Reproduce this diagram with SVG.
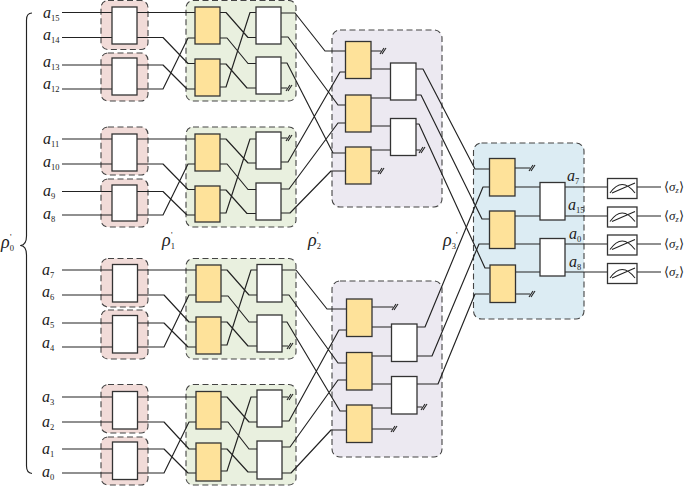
<svg xmlns="http://www.w3.org/2000/svg" width="685" height="486" viewBox="0 0 685 486" font-family="'Liberation Serif','Times New Roman',serif">
<style>
.r{fill:#f1dbd8;stroke:#444;stroke-width:1.1;stroke-dasharray:6 3.5}
.g{fill:#e9f0df;stroke:#444;stroke-width:1.1;stroke-dasharray:6 3.5}
.p{fill:#ece9f1;stroke:#444;stroke-width:1.1;stroke-dasharray:6 3.5}
.b{fill:#dcecf3;stroke:#444;stroke-width:1.1;stroke-dasharray:6 3.5}
.y{fill:#fee29a;stroke:#333;stroke-width:1.3}
.w{fill:#fff;stroke:#333;stroke-width:1.3}
.c{fill:none;stroke:#222;stroke-width:1.15;stroke-linejoin:round}
.h{fill:none;stroke:#222;stroke-width:1.1}
.m{fill:#fff;stroke:#333;stroke-width:1.3}
text{font-family:'Liberation Serif','Times New Roman',serif;font-size:16px;fill:#222}
.i{font-style:italic}
.s{font-size:8.5px;font-style:normal}
.q{font-size:13px}
.z{font-size:8px;font-style:italic}
.rho{font-size:18px;font-style:italic}
</style>
<g id="backgrounds">
<rect class="r" x="101" y="0.5" width="47" height="49" rx="7"/><rect class="r" x="101" y="53" width="47" height="48" rx="7"/>
<rect class="r" x="101" y="127" width="47" height="48" rx="7"/><rect class="r" x="101" y="179" width="47" height="48" rx="7"/>
<rect class="r" x="101" y="258.500" width="47" height="48.500" rx="7"/><rect class="r" x="101" y="310" width="47" height="49" rx="7"/>
<rect class="r" x="101" y="384.500" width="47" height="48.500" rx="7"/><rect class="r" x="101" y="437" width="47" height="48" rx="7"/>
<rect class="g" x="186" y="0.500" width="110" height="100.500" rx="7"/><rect class="g" x="186" y="127" width="110" height="100" rx="7"/>
<rect class="g" x="186" y="258.500" width="110" height="100.500" rx="7"/><rect class="g" x="186" y="384.500" width="110" height="100.500" rx="7"/>
<rect class="p" x="332" y="30" width="110" height="177" rx="8"/><rect class="p" x="332" y="281" width="110" height="176" rx="8"/>
<rect class="b" x="473.500" y="143" width="110.500" height="176" rx="8"/>
</g>
<g id="connectors">
<path class="c" d="M62 12.500H195M62 37.500H163L188 63.500H195M62 65H163L187 89H195M62 89H163L188 38H195M220 12.500H226L248 37.500H256M220 38H227L248 63.500H256M220 64H226L247 88H256M220 87H226L250 12.500H256"/>
<path class="c" d="M62 139H195M62 164H163L188 189.500H195M62 191.500H163L187 215H195M62 215H163L188 164H195M220 139H226L248 163H256M220 164H227L248 189.500H256M220 190H226L247 213.500H256M220 213H226L250 139H256"/>
<path class="c" d="M62 270H196M62 295H164L189 322H196M62 323H164L188 347H196M62 347H164L189 295H196M221 270H227L249 295H257M221 296H228L249 322H257M221 322H227L248 346H257M221 345H227L251 270H257"/>
<path class="c" d="M62 397H196M62 422H164L189 449H196M62 449H164L188 473H196M62 473H164L189 422H196M221 397H227L249 422H257M221 422H228L249 449H257M221 449H227L248 472H257M221 471H227L251 397H257"/>
<path class="c" d="M281 13H295L325 51H345M281 37H288L338 105H345M281 63H287L333 153H345M281 88H287M281 138H287M281 162H288L340 72H345M281 189H289L338 123H345M281 213H290L331 171H345"/>
<path class="c" d="M282 270H296L327 309H347M282 295H289L338 363H347M282 322H287L340 411H347M282 346H288M282 397H288M282 421H289L339 330H347M282 447H290L338 380H347M282 473H291L331 430H347"/>
<path class="c" d="M371 51H381M371 69H390M371 98H390M371 126H390M371 150H390M371 171H379M416 69H423L475 169H489M416 95H421L482 219H489M416 124H419L485 268H490M416 150H420"/>
<path class="c" d="M372 307H393M372 327H391M372 356H391M372 384H391M372 408H391M372 429H392M417 327H425L483 187H489M417 356H432L479 244H490M417 384H438L475 294H489M417 407H422"/>
<path class="c" d="M515 168H530M515 187H540M515 216H540M515 244H540M515 272H540M515 294H530M565 187H607M565 216H607M565 244H607M565 272H607M637 187H661M637 216H661M637 244H661M637 272H661"/>
<path class="c" d="M32 13Q26.500 13 26.500 20V236Q26.500 245 20.500 245.500Q26.500 246 26.500 255V466Q26.500 473 32 473.500"/>
<g class="h"><path d="M286 91L290 85M288 91L292 85M286 141L290 135M288 141L292 135"/>
<path d="M287 349L291 343M289 349L293 343M287 400L291 394M289 400L293 394"/>
<path d="M380 54L384 48M382 54L386 48M378 174L382 168M380 174L384 168M419 153L423 147M421 153L425 147"/>
<path d="M392 310L396 304M394 310L398 304M391 432L395 426M393 432L397 426M421 410L425 404M423 410L427 404"/>
<path d="M529 171L533 165M531 171L535 165M529 297L533 291M531 297L535 291"/></g>
</g>
<g id="n1"><rect class="w" x="112" y="7" width="25" height="37"/></g>
<g id="n2"><rect class="w" x="112" y="58" width="25" height="37"/></g>
<g id="n3"><rect class="w" x="112" y="134" width="25" height="37"/></g>
<g id="n4"><rect class="w" x="112" y="185" width="25" height="36"/></g>
<g id="n5"><rect class="w" x="112.500" y="264.500" width="25" height="37.500"/></g>
<g id="n6"><rect class="w" x="112.500" y="315.500" width="25" height="37.500"/></g>
<g id="n7"><rect class="w" x="112.500" y="391.500" width="25" height="37.500"/></g>
<g id="n8"><rect class="w" x="112.500" y="442" width="25" height="37.500"/></g>
<g id="n9"><rect class="y" x="195" y="7" width="25" height="37"/></g>
<g id="n10"><rect class="y" x="195" y="59" width="25" height="37"/></g>
<g id="n11"><rect class="y" x="195" y="134" width="25" height="37"/></g>
<g id="n12"><rect class="y" x="195" y="186" width="25" height="36"/></g>
<g id="n13"><rect class="y" x="196" y="265" width="25" height="37"/></g>
<g id="n14"><rect class="y" x="196" y="317" width="25" height="37"/></g>
<g id="n15"><rect class="y" x="196" y="391.500" width="25" height="37.500"/></g>
<g id="n16"><rect class="y" x="196" y="443" width="25" height="38"/></g>
<g id="n17"><rect class="w" x="256" y="7" width="25" height="37"/></g>
<g id="n18"><rect class="w" x="256" y="57" width="25" height="37"/></g>
<g id="n19"><rect class="w" x="256" y="132" width="25" height="37"/></g>
<g id="n20"><rect class="w" x="256" y="183" width="25" height="37"/></g>
<g id="n21"><rect class="w" x="257" y="264.500" width="25" height="37.500"/></g>
<g id="n22"><rect class="w" x="257" y="315" width="25" height="37"/></g>
<g id="n23"><rect class="w" x="257" y="390" width="25" height="37"/></g>
<g id="n24"><rect class="w" x="257" y="441" width="25" height="38"/></g>
<g id="n25"><rect class="y" x="345.500" y="41.500" width="25.500" height="37"/></g>
<g id="n26"><rect class="y" x="345.500" y="95" width="25.500" height="37"/></g>
<g id="n27"><rect class="y" x="345.500" y="147" width="25.500" height="37"/></g>
<g id="n28"><rect class="w" x="390.500" y="63" width="25.500" height="37"/></g>
<g id="n29"><rect class="w" x="390.500" y="118.500" width="25.500" height="37"/></g>
<g id="n30"><rect class="y" x="346.500" y="299" width="25.500" height="37.500"/></g>
<g id="n31"><rect class="y" x="346.500" y="352.500" width="25.500" height="37.500"/></g>
<g id="n32"><rect class="y" x="346.500" y="405" width="25.500" height="37.500"/></g>
<g id="n33"><rect class="w" x="391.500" y="324" width="25.500" height="37.500"/></g>
<g id="n34"><rect class="w" x="391.500" y="376.500" width="25.500" height="37.500"/></g>
<g id="n35"><rect class="y" x="489.500" y="158.500" width="25.500" height="37.500"/></g>
<g id="n36"><rect class="y" x="489.500" y="211" width="25.500" height="37.500"/></g>
<g id="n37"><rect class="y" x="490" y="265" width="25.500" height="37.500"/></g>
<g id="n38"><rect class="w" x="540" y="182.500" width="25" height="37.500"/></g>
<g id="n39"><rect class="w" x="540" y="238.500" width="25" height="37.500"/></g>
<g id="meter1"><rect class="m" x="607.500" y="178.500" width="29.500" height="20"/><path class="h" d="M610 193Q622 176 635 193M612 193L635 183"/></g>
<g id="meter2"><rect class="m" x="607.500" y="207" width="29.500" height="20"/><path class="h" d="M610 221.500Q622 204.500 635 221.500M612 221.500L635 211.500"/></g>
<g id="meter3"><rect class="m" x="607.500" y="235" width="29.500" height="20"/><path class="h" d="M610 249.500Q622 232.500 635 249.500M612 249.500L635 239.500"/></g>
<g id="meter4"><rect class="m" x="607.500" y="263.500" width="29.500" height="20"/><path class="h" d="M610 278Q622 261 635 278M612 278L635 268"/></g>
<g id="labels">
<text class="i" x="43" y="18">a<tspan class="s" dy="3">15</tspan></text>
<text class="i" x="43" y="40">a<tspan class="s" dy="3">14</tspan></text>
<text class="i" x="43" y="67">a<tspan class="s" dy="3">13</tspan></text>
<text class="i" x="43" y="89">a<tspan class="s" dy="3">12</tspan></text>
<text class="i" x="43" y="144">a<tspan class="s" dy="3">11</tspan></text>
<text class="i" x="43" y="167">a<tspan class="s" dy="3">10</tspan></text>
<text class="i" x="43" y="196">a<tspan class="s" dy="3">9</tspan></text>
<text class="i" x="43" y="219">a<tspan class="s" dy="3">8</tspan></text>
<text class="i" x="42" y="275">a<tspan class="s" dy="3">7</tspan></text>
<text class="i" x="42" y="297">a<tspan class="s" dy="3">6</tspan></text>
<text class="i" x="42" y="325">a<tspan class="s" dy="3">5</tspan></text>
<text class="i" x="42" y="348">a<tspan class="s" dy="3">4</tspan></text>
<text class="i" x="42" y="402">a<tspan class="s" dy="3">3</tspan></text>
<text class="i" x="42" y="427">a<tspan class="s" dy="3">2</tspan></text>
<text class="i" x="42" y="454">a<tspan class="s" dy="3">1</tspan></text>
<text class="i" x="42" y="477">a<tspan class="s" dy="3">0</tspan></text>
<text class="i" x="567" y="181">a<tspan class="s" dy="3">7</tspan></text>
<text class="i" x="568" y="210">a<tspan class="s" dy="3">15</tspan></text>
<text class="i" x="569" y="239">a<tspan class="s" dy="3">0</tspan></text>
<text class="i" x="569" y="267">a<tspan class="s" dy="3">8</tspan></text>
<text class="rho" x="1" y="248">ρ<tspan class="s" dy="3">0</tspan><tspan class="s" x="10" y="240">'</tspan></text>
<text class="rho" x="162" y="246">ρ<tspan class="s" dy="3">1</tspan><tspan class="s" x="171" y="238">'</tspan></text>
<text class="rho" x="308" y="246">ρ<tspan class="s" dy="3">2</tspan><tspan class="s" x="317" y="238">'</tspan></text>
<text class="rho" x="443" y="246">ρ<tspan class="s" dy="3">3</tspan><tspan class="s" x="456" y="238">'</tspan></text>
<text class="q" x="664" y="191">⟨<tspan class="i">σ</tspan><tspan class="z" dy="2">z</tspan><tspan dy="-2">⟩</tspan></text>
<text class="q" x="664" y="220">⟨<tspan class="i">σ</tspan><tspan class="z" dy="2">z</tspan><tspan dy="-2">⟩</tspan></text>
<text class="q" x="664" y="248">⟨<tspan class="i">σ</tspan><tspan class="z" dy="2">z</tspan><tspan dy="-2">⟩</tspan></text>
<text class="q" x="664" y="276">⟨<tspan class="i">σ</tspan><tspan class="z" dy="2">z</tspan><tspan dy="-2">⟩</tspan></text>
</g>
</svg>
